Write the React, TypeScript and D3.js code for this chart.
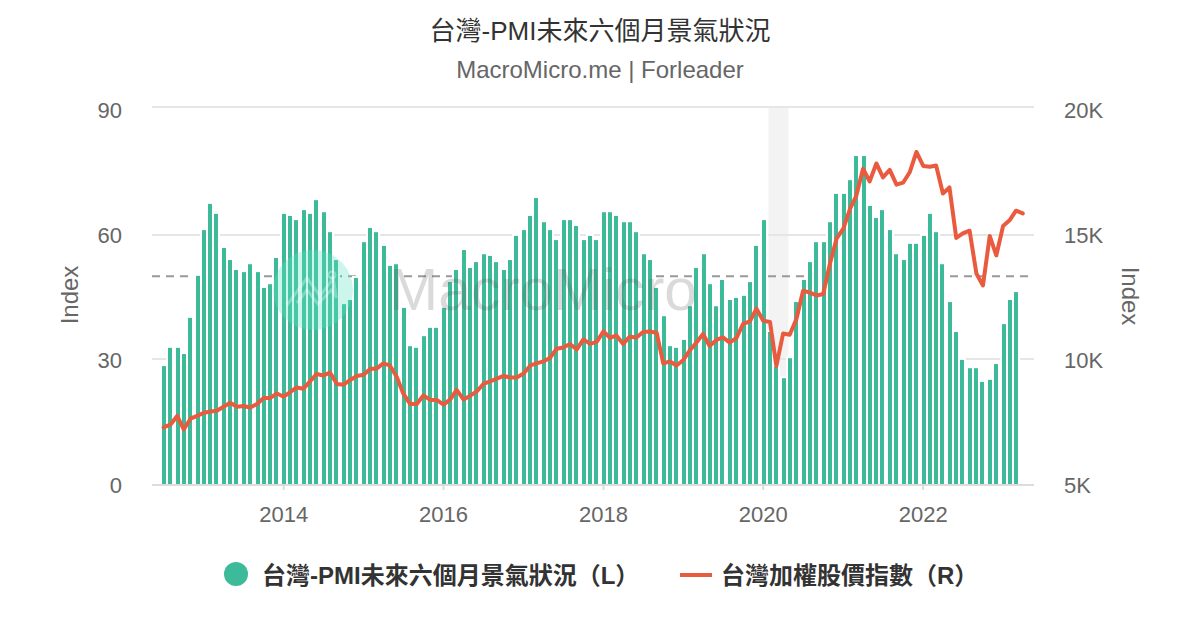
import React from "react";
import * as d3 from "d3";

const startMonth = new Date(Date.UTC(2012, 6, 1));
const pmi = [
  28.5, 32.9, 32.9, 31.4, 40.1, 50.2, 61.2, 67.5, 65.1, 56.9, 54, 51.6, 51.1, 53, 51.1, 47.3, 48.2, 54.5, 65.1, 64.6,
  63.6, 66, 65.1, 68.4, 65.5, 60.7, 54, 43.4, 44.4, 49.7, 58.3, 61.7, 60.7, 57.4, 52.6, 53, 42.5, 33.3, 32.9, 35.7,
  37.7, 37.7, 42.5, 48.7, 51.6, 56.4, 52.1, 53.5, 55.4, 55, 53.5, 51.6, 54, 59.8, 61.2, 64.6, 68.9, 63.1, 61.2, 58.8,
  63.6, 63.6, 62.2, 58.8, 59.8, 58.8, 65.5, 65.5, 64.6, 63.1, 63.1, 60.7, 55.4, 54, 47.3, 40.5, 33.3, 32.9, 34.8, 42.9,
  52.1, 55.4, 48.2, 42.9, 49.2, 44.4, 44.9, 45.4, 48.7, 57.4, 63.6, 36.7, 28.4, 25.6, 30.4, 43.9, 49.2, 53.5, 58.3, 58.3,
  63.1, 69.9, 69.9, 73.2, 79, 79, 67, 64.1, 66, 61.2, 55.4, 54, 57.9, 57.9, 59.8, 65.1, 60.7, 53, 43.9, 36.7,
  30, 28, 28, 24.7, 25.2, 29, 38.6, 44.4, 46.3,
];
const taiex = [
  7.29, 7.4, 7.75, 7.21, 7.64, 7.75, 7.88, 7.93, 7.96, 8.12, 8.28, 8.12, 8.15, 8.09, 8.23, 8.47, 8.47, 8.65, 8.52, 8.71,
  8.89, 8.84, 9.13, 9.43, 9.37, 9.48, 9.03, 9, 9.19, 9.35, 9.4, 9.64, 9.64, 9.85, 9.77, 9.32, 8.65, 8.23, 8.23, 8.57,
  8.39, 8.39, 8.2, 8.41, 8.79, 8.41, 8.55, 8.73, 9.03, 9.13, 9.24, 9.35, 9.29, 9.29, 9.45, 9.77, 9.85, 9.93, 10.07, 10.44,
  10.49, 10.63, 10.41, 10.81, 10.63, 10.71, 11.13, 10.87, 10.97, 10.63, 10.92, 10.89, 11.11, 11.13, 11.08, 9.85, 9.93, 9.77, 9.99, 10.39,
  10.68, 11.03, 10.55, 10.79, 10.89, 10.68, 10.87, 11.43, 11.53, 12.04, 11.56, 11.51, 9.75, 11.05, 11, 11.64, 12.76, 12.68, 12.57, 12.63,
  13.85, 14.84, 15.24, 16.04, 16.55, 17.64, 17.13, 17.85, 17.29, 17.59, 17, 17.08, 17.51, 18.31, 17.75, 17.72, 17.77, 16.65, 16.89, 14.87,
  15.05, 15.16, 13.45, 12.97, 14.95, 14.17, 15.35, 15.59, 15.96, 15.85,
];
const leftTicks = [0, 30, 60, 90];
const rightTicks = [5, 10, 15, 20];
const yearTicks = [2014, 2016, 2018, 2020, 2022];
const refLevel = 50;
const recession = [new Date(Date.UTC(2020, 0, 25)), new Date(Date.UTC(2020, 3, 25))];

const titleText = "台灣-PMI未來六個月景氣狀況";
const subtitleText = "MacroMicro.me | Forleader";
const legendBars = "台灣-PMI未來六個月景氣狀況（L）";
const legendLine = "台灣加權股價指數（R）";

const GREEN = "#3cba99";
const RED = "#ea5a3e";
const FONT = '"Liberation Sans", "Noto Sans CJK TC", sans-serif';

const months = (n: number) => d3.range(n).map((i) => d3.utcMonth.offset(startMonth, i));

export default function App() {
  const x = d3
    .scaleUtc()
    .domain([startMonth, new Date(Date.UTC(2023, 2, 1))])
    .range([163.6, 1016]);
  const yLeft = d3.scaleLinear().domain([0, 90]).range([484.7, 110.3]);
  const yGrid = d3.scaleLinear().domain([0, 30, 60, 90]).range([485, 359, 235, 107]);
  const yRight = d3.scaleLinear().domain([5, 20]).range([484.7, 109.7]);

  const barDates = months(pmi.length);
  const lineDates = months(taiex.length);
  const barW = 4;
  const snap = (v: number) => 2 * Math.round(v / 2);
  const left = (d: Date) => snap(x(d) - barW / 2);

  const linePath = d3
    .line<number>()
    .x((_, i) => x(lineDates[i]))
    .y((d) => yRight(d))(taiex);

  return (
    <svg
      width={1200}
      height={630}
      viewBox="0 0 1200 630"
      style={{ position: "absolute", left: 0, top: 0, background: "#fff" }}
      fontFamily={FONT}
    >
      <text x={600} y={40} textAnchor="middle" fontSize={26} fill="#333">{titleText}</text>
      <text x={600} y={78} textAnchor="middle" fontSize={24} fill="#666">{subtitleText}</text>

      <rect x={x(recession[0])} y={107} width={x(recession[1]) - x(recession[0])} height={378} fill="#f3f3f3" />

      {leftTicks.slice(1).map((t) => (
        <line key={t} x1={152} x2={1034} y1={yGrid(t)} y2={yGrid(t)} stroke="#e6e6e6" strokeWidth={2} />
      ))}
      <line x1={152} x2={1030} y1={yGrid(refLevel)} y2={yGrid(refLevel)} stroke="#999" strokeWidth={2} strokeDasharray="8 6" />

      {pmi.map((v, i) => (
        <rect key={i} x={left(barDates[i]) - 2} y={yLeft(v) - 2} width={barW + 4} height={485 - yLeft(v) + 2} fill="#fff" />
      ))}
      <line x1={152} x2={1034} y1={485} y2={485} stroke="#dcdcdc" strokeWidth={2} />
      {pmi.map((v, i) => (
        <rect key={i} x={left(barDates[i])} y={yLeft(v)} width={barW} height={484 - yLeft(v)} fill={GREEN} />
      ))}
      {yearTicks.map((yr) => {
        const px = x(new Date(Date.UTC(yr, 0, 1)));
        return (
          <g key={yr}>
            <line x1={px} x2={px} y1={485} y2={490} stroke="#dcdcdc" strokeWidth={2} />
            <text x={px} y={522} textAnchor="middle" fontSize={22} fill="#666">{yr}</text>
          </g>
        );
      })}

      {/* watermark */}
      <g>
        <circle cx={313} cy={290} r={40} fill="#5fe3c4" fillOpacity={0.32} />
        <path
          d="M287 305 L307 278 L320 296 L333 279 L331 276 M297 303 L307 290 L318 304 L331 290 L337 298 M333 276 L336 296"
          fill="none"
          stroke="#fff"
          strokeOpacity={0.3}
          strokeWidth={3}
        />
        <circle cx={332} cy={275} r={3.5} fill="none" stroke="#fff" strokeOpacity={0.35} strokeWidth={2} />
        <text x={389} y={310} fontSize={59} fill="#555" fillOpacity={0.22}>MacroMicro</text>
      </g>

      <path d={linePath ?? ""} fill="none" stroke={RED} strokeWidth={4} strokeLinejoin="round" strokeLinecap="round" />

      {leftTicks.map((t) => (
        <text key={t} x={122} y={yLeft(t) + 8} textAnchor="end" fontSize={22} fill="#666">{t}</text>
      ))}
      {rightTicks.map((t) => (
        <text key={t} x={1064} y={yRight(t) + 8} fontSize={22} fill="#666">{t}K</text>
      ))}
      <text transform="translate(78,295) rotate(-90)" textAnchor="middle" fontSize={24} fill="#666">Index</text>
      <text transform="translate(1122,296) rotate(90)" textAnchor="middle" fontSize={24} fill="#666">Index</text>

      <circle cx={236} cy={574} r={12} fill={GREEN} />
      <text x={262} y={584} fontSize={24} fontWeight={700} fill="#333">{legendBars}</text>
      <line x1={680} x2={712} y1={575} y2={575} stroke={RED} strokeWidth={4} />
      <text x={721} y={584} fontSize={24} fontWeight={700} fill="#333">{legendLine}</text>
    </svg>
  );
}
